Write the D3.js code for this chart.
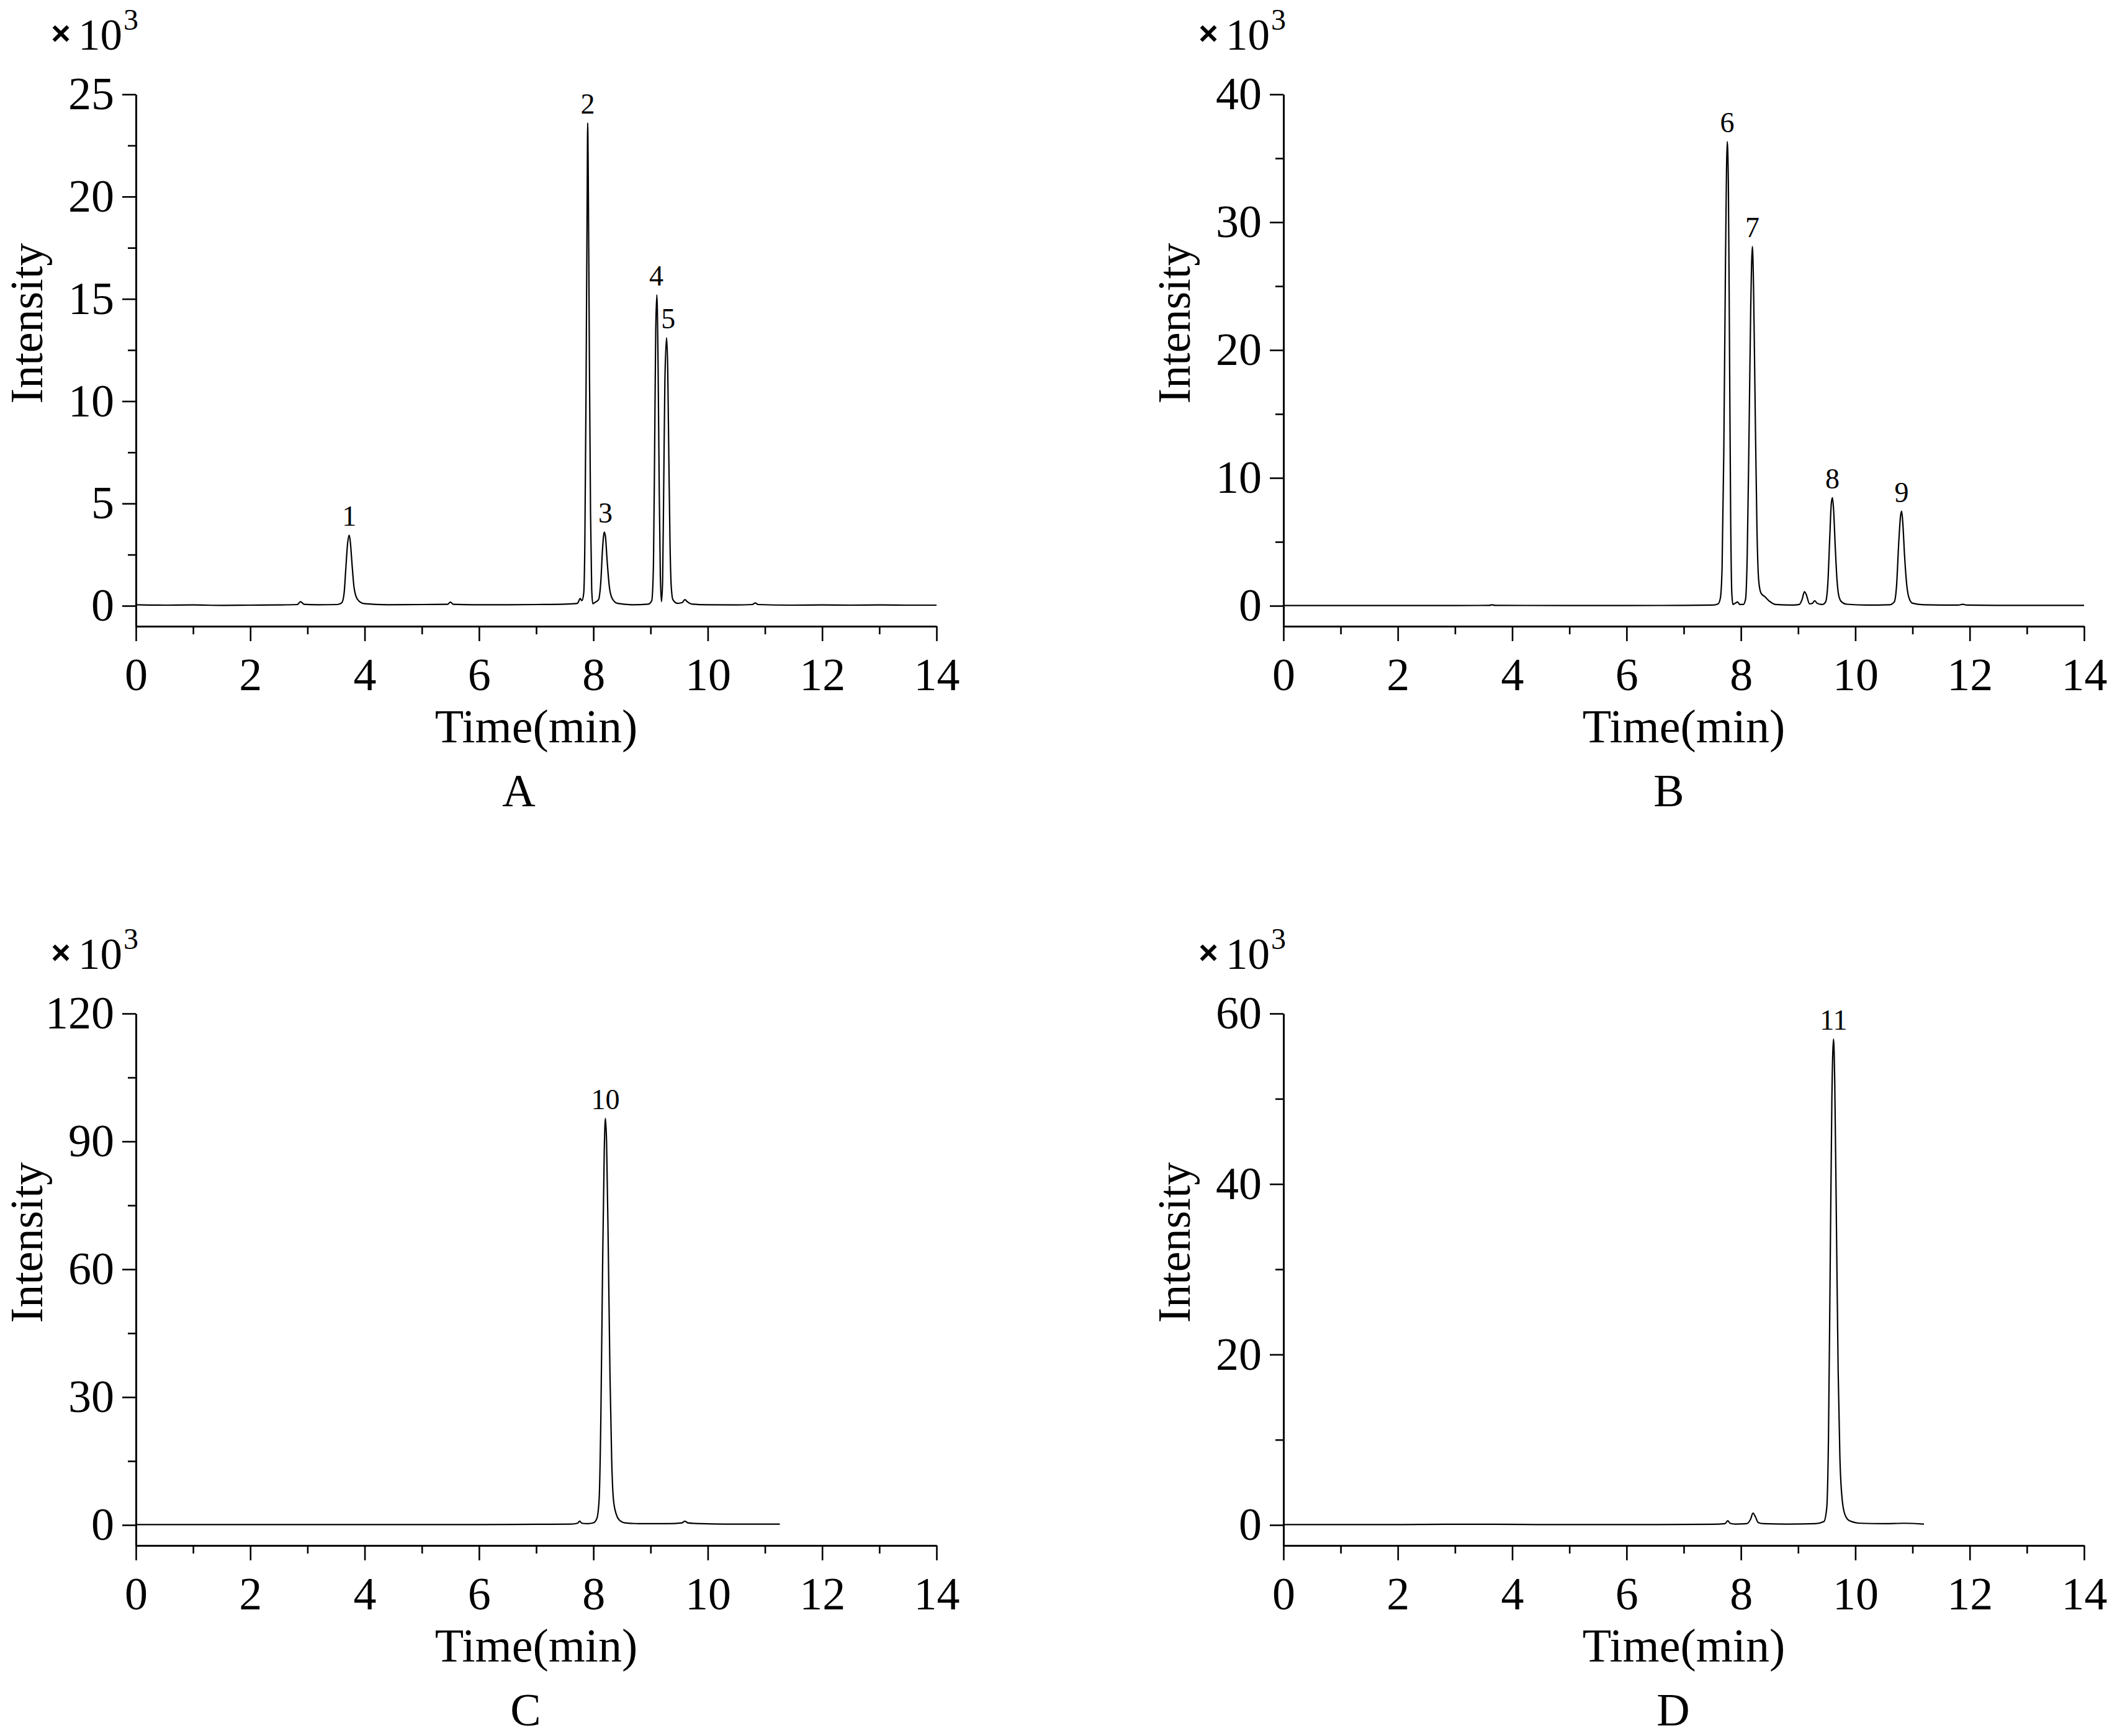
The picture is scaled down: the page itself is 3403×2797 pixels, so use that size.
<!DOCTYPE html>
<html>
<head>
<meta charset="utf-8">
<script src="https://cdn.jsdelivr.net/npm/d3@7"></script>
<style>
  body { margin: 0; background: #fff; }
</style>
</head>
<body>
<div id="chart"></div>
<script>
// 数据区：时间(min), 强度(×10^3)
const traceA = [
  [0, 0.05], [0.5, 0.03], [1.0, 0.04], [1.5, 0.02], [2.0, 0.03], [2.5, 0.04], [2.82, 0.06], [2.88, 0.2], [2.94, 0.07],
  [3.2, 0.05], [3.52, 0.06], [3.6, 0.15], [3.64, 0.6], [3.67, 1.8], [3.7, 3.0], [3.73, 3.45], [3.75, 3.1], [3.78, 2.0],
  [3.81, 1.0], [3.85, 0.45], [3.91, 0.2], [4.0, 0.1], [4.4, 0.05], [5.0, 0.06], [5.45, 0.07], [5.5, 0.18], [5.55, 0.07],
  [6.0, 0.05], [6.5, 0.05], [7.0, 0.06], [7.5, 0.08], [7.72, 0.12], [7.77, 0.35], [7.8, 0.25], [7.83, 0.6], [7.85, 3.0],
  [7.87, 10], [7.89, 19.5], [7.9, 23.6], [7.91, 21], [7.93, 12], [7.95, 4.5], [7.97, 0.8], [7.99, 0.1], [8.02, 0.15],
  [8.09, 0.3], [8.13, 1.2], [8.16, 2.8], [8.19, 3.6], [8.21, 3.4], [8.24, 2.2], [8.28, 0.9], [8.33, 0.35], [8.42, 0.12],
  [8.7, 0.05], [8.96, 0.08], [9.02, 0.25], [9.05, 2.0], [9.07, 7.5], [9.09, 13.5], [9.11, 15.2], [9.13, 12], [9.15, 6],
  [9.17, 1.5], [9.19, 0.2], [9.21, 1.2], [9.23, 6], [9.25, 11], [9.28, 13.1], [9.3, 11.5], [9.32, 7], [9.34, 3],
  [9.36, 1.0], [9.39, 0.3], [9.47, 0.12], [9.55, 0.15], [9.6, 0.3], [9.64, 0.2], [9.73, 0.08], [10.0, 0.05],
  [10.5, 0.04], [10.78, 0.06], [10.83, 0.14], [10.88, 0.06], [11.5, 0.03], [12.0, 0.04], [12.5, 0.03], [13.0, 0.04],
  [13.5, 0.03], [14, 0.03]
];
const traceB = [
  [0, 0.02], [1, 0.02], [2, 0.02], [3, 0.02], [3.6, 0.03], [3.65, 0.08], [3.7, 0.03], [5, 0.02], [6, 0.02], [7, 0.03],
  [7.5, 0.05], [7.6, 0.15], [7.64, 0.6], [7.67, 3], [7.7, 12], [7.73, 27], [7.76, 36.3], [7.78, 33], [7.8, 20],
  [7.82, 7], [7.84, 1.0], [7.86, 0.1], [7.9, 0.2], [7.94, 0.3], [7.98, 0.1], [8.04, 0.1], [8.08, 0.5], [8.11, 4],
  [8.14, 13], [8.17, 23], [8.2, 28.1], [8.22, 25], [8.25, 15], [8.28, 6], [8.31, 2], [8.35, 1.0], [8.42, 0.7],
  [8.5, 0.35], [8.6, 0.1], [8.9, 0.05], [9.02, 0.1], [9.07, 0.5], [9.11, 1.1], [9.14, 0.9], [9.2, 0.15], [9.25, 0.2],
  [9.29, 0.4], [9.33, 0.2], [9.42, 0.1], [9.48, 0.3], [9.52, 1.8], [9.55, 5], [9.58, 8.0], [9.6, 8.45], [9.62, 7.5],
  [9.65, 4.5], [9.68, 2], [9.71, 0.8], [9.76, 0.3], [9.85, 0.12], [10.2, 0.05], [10.6, 0.08], [10.68, 0.3],
  [10.72, 1.5], [10.76, 5], [10.79, 7.0], [10.81, 7.4], [10.83, 6.5], [10.86, 4], [10.9, 1.6], [10.94, 0.6],
  [11.0, 0.2], [11.2, 0.08], [11.8, 0.05], [11.88, 0.12], [11.95, 0.05], [12.5, 0.03], [13, 0.03], [14, 0.03]
];
const traceC = [
  [0, 0.1], [1, 0.1], [2, 0.1], [3, 0.1], [4, 0.1], [5, 0.1], [6, 0.1], [7, 0.15], [7.6, 0.2], [7.72, 0.4],
  [7.76, 0.9], [7.8, 0.4], [7.9, 0.3], [8.0, 0.5], [8.06, 1.5], [8.1, 6], [8.13, 25], [8.16, 60], [8.19, 88],
  [8.21, 95.4], [8.23, 90], [8.26, 65], [8.29, 35], [8.32, 15], [8.35, 6], [8.4, 2.5], [8.45, 1.2], [8.55, 0.5],
  [8.8, 0.3], [9.3, 0.3], [9.55, 0.5], [9.6, 0.9], [9.65, 0.5], [9.9, 0.3], [10.3, 0.2], [10.8, 0.2], [11.26, 0.2]
];
const traceD = [
  [0, 0.05], [1, 0.05], [2, 0.05], [2.9, 0.08], [3.7, 0.08], [4.5, 0.05], [5.5, 0.05], [6.5, 0.05], [7.5, 0.08],
  [7.72, 0.15], [7.77, 0.5], [7.81, 0.2], [7.9, 0.1], [8.1, 0.15], [8.17, 0.7], [8.21, 1.4], [8.25, 1.0], [8.3, 0.3],
  [8.4, 0.15], [8.8, 0.1], [9.3, 0.15], [9.45, 0.4], [9.5, 2], [9.53, 10], [9.56, 30], [9.59, 50], [9.62, 57],
  [9.64, 52], [9.67, 35], [9.7, 18], [9.73, 8], [9.77, 3], [9.82, 1.2], [9.9, 0.5], [10.1, 0.2], [10.5, 0.15],
  [10.85, 0.2], [11.2, 0.1]
];

// 峰标注：编号、标注时间、峰高
const peaksA = [
  { label: "1", t: 3.73, v: 3.45 }, { label: "2", t: 7.9, v: 23.6 }, { label: "3", t: 8.21, v: 3.6 },
  { label: "4", t: 9.1, v: 15.2 }, { label: "5", t: 9.31, v: 13.1 }
];
const peaksB = [
  { label: "6", t: 7.76, v: 36.3 }, { label: "7", t: 8.2, v: 28.1 }, { label: "8", t: 9.6, v: 8.45 },
  { label: "9", t: 10.81, v: 7.4 }
];
const peaksC = [{ label: "10", t: 8.21, v: 95.4 }];
const peaksD = [{ label: "11", t: 9.62, v: 57 }];

// 刻度
const xTicks = [0, 2, 4, 6, 8, 10, 12, 14];
const xMinorTicks = [1, 3, 5, 7, 9, 11, 13];
const yTicksA = [0, 5, 10, 15, 20, 25];
const yMinorA = [2.5, 7.5, 12.5, 17.5, 22.5];
const yTicksB = [0, 10, 20, 30, 40];
const yMinorB = [5, 15, 25, 35];
const yTicksC = [0, 30, 60, 90, 120];
const yMinorC = [15, 45, 75, 105];
const yTicksD = [0, 20, 40, 60];
const yMinorD = [10, 30, 50];

//常量区
const W = 3403, H = 2797;
const plotWidth = 1290;
const plotHeight = 824;   // 顶部刻度到 0 的距离
const axisGap = 33;       // 0 到 x 轴线的距离
const font = "'Liberation Serif', 'Times New Roman', serif";

const svg = d3.select("#chart").append("svg")
  .attr("width", W).attr("height", H)
  .style("background", "#fff");

function drawPanel(x0, top, yTicks, yMinor, trace, peaks, letter, letterShift) {
  const g = svg.append("g").attr("transform", `translate(${x0}, ${top})`);
  const yMax = yTicks[yTicks.length - 1];
  const axisY = plotHeight + axisGap;

  const xScale = d3.scaleLinear().domain([0, 14]).range([0, plotWidth]);
  const yZero = d3.scaleLinear().domain([0, yMax]).range([plotHeight, 0]);
  const yScale = d3.scaleLinear().domain([yZero.invert(axisY), yMax]).range([axisY, 0]);

  // 谱线
  const line = d3.line()
    .x(d => xScale(d[0]))
    .y(d => yScale(d[1]))
    .curve(d3.curveMonotoneX);
  g.append("path")
    .attr("d", line(trace))
    .attr("fill", "none")
    .attr("stroke", "#000")
    .attr("stroke-width", 2.2)
    .attr("stroke-linejoin", "round");

  // x轴
  g.append("g")
    .attr("transform", `translate(0, ${axisY})`)
    .call(d3.axisBottom(xScale).tickValues(xTicks).tickSize(24).tickSizeOuter(0).tickPadding(26));
  g.append("g")
    .attr("transform", `translate(0, ${axisY})`)
    .call(d3.axisBottom(xScale).tickValues(xMinorTicks).tickSize(13).tickFormat(""))
    .call(a => a.select(".domain").remove());

  // y轴
  g.append("g")
    .call(d3.axisLeft(yScale).tickValues(yTicks).tickSize(22).tickSizeOuter(0).tickPadding(13));
  g.append("g")
    .call(d3.axisLeft(yScale).tickValues(yMinor).tickSize(13).tickFormat(""))
    .call(a => a.select(".domain").remove());

  g.selectAll(".domain").attr("stroke-width", 3);
  g.selectAll(".tick line").attr("stroke-width", 2.6);
  g.selectAll(".tick text")
    .style("font-family", font)
    .style("font-size", "74px")
    .attr("fill", "#000");

  // 标题
  g.append("text")
    .attr("x", plotWidth / 2)
    .attr("y", axisY + 187)
    .attr("text-anchor", "middle")
    .style("font-family", font).style("font-size", "76px")
    .text("Time(min)");
  g.append("text")
    .attr("x", plotWidth / 2 + letterShift)
    .attr("y", axisY + 290)
    .attr("text-anchor", "middle")
    .style("font-family", font).style("font-size", "74px")
    .text(letter);
  g.append("text")
    .attr("transform", `translate(-151, 369) rotate(-90)`)
    .attr("text-anchor", "middle")
    .style("font-family", font).style("font-size", "74px")
    .text("Intensity");

  // ×10^3
  g.append("text")
    .attr("x", -121).attr("y", -80)
    .attr("text-anchor", "middle")
    .style("font-family", "'Liberation Sans', Arial, sans-serif")
    .style("font-weight", "bold").style("font-size", "54px")
    .text("×");
  g.append("text")
    .attr("x", -93).attr("y", -72)
    .style("font-family", font).style("font-size", "71px")
    .text("10");
  g.append("text")
    .attr("x", -20).attr("y", -104)
    .style("font-family", font).style("font-size", "48px")
    .text("3");

  // 峰编号
  g.selectAll(".peak-label")
    .data(peaks)
    .enter()
    .append("text")
    .attr("class", "peak-label")
    .attr("x", d => xScale(d.t))
    .attr("y", d => yScale(d.v) - 15)
    .attr("text-anchor", "middle")
    .style("font-family", font).style("font-size", "46px")
    .text(d => d.label);
}

drawPanel(219, 152, yTicksA, yMinorA, traceA, peaksA, "A", -28);
drawPanel(2068, 152, yTicksB, yMinorB, traceB, peaksB, "B", -24);
drawPanel(219, 1633, yTicksC, yMinorC, traceC, peaksC, "C", -17);
drawPanel(2068, 1633, yTicksD, yMinorD, traceD, peaksD, "D", -17);
</script>
</body>
</html>
